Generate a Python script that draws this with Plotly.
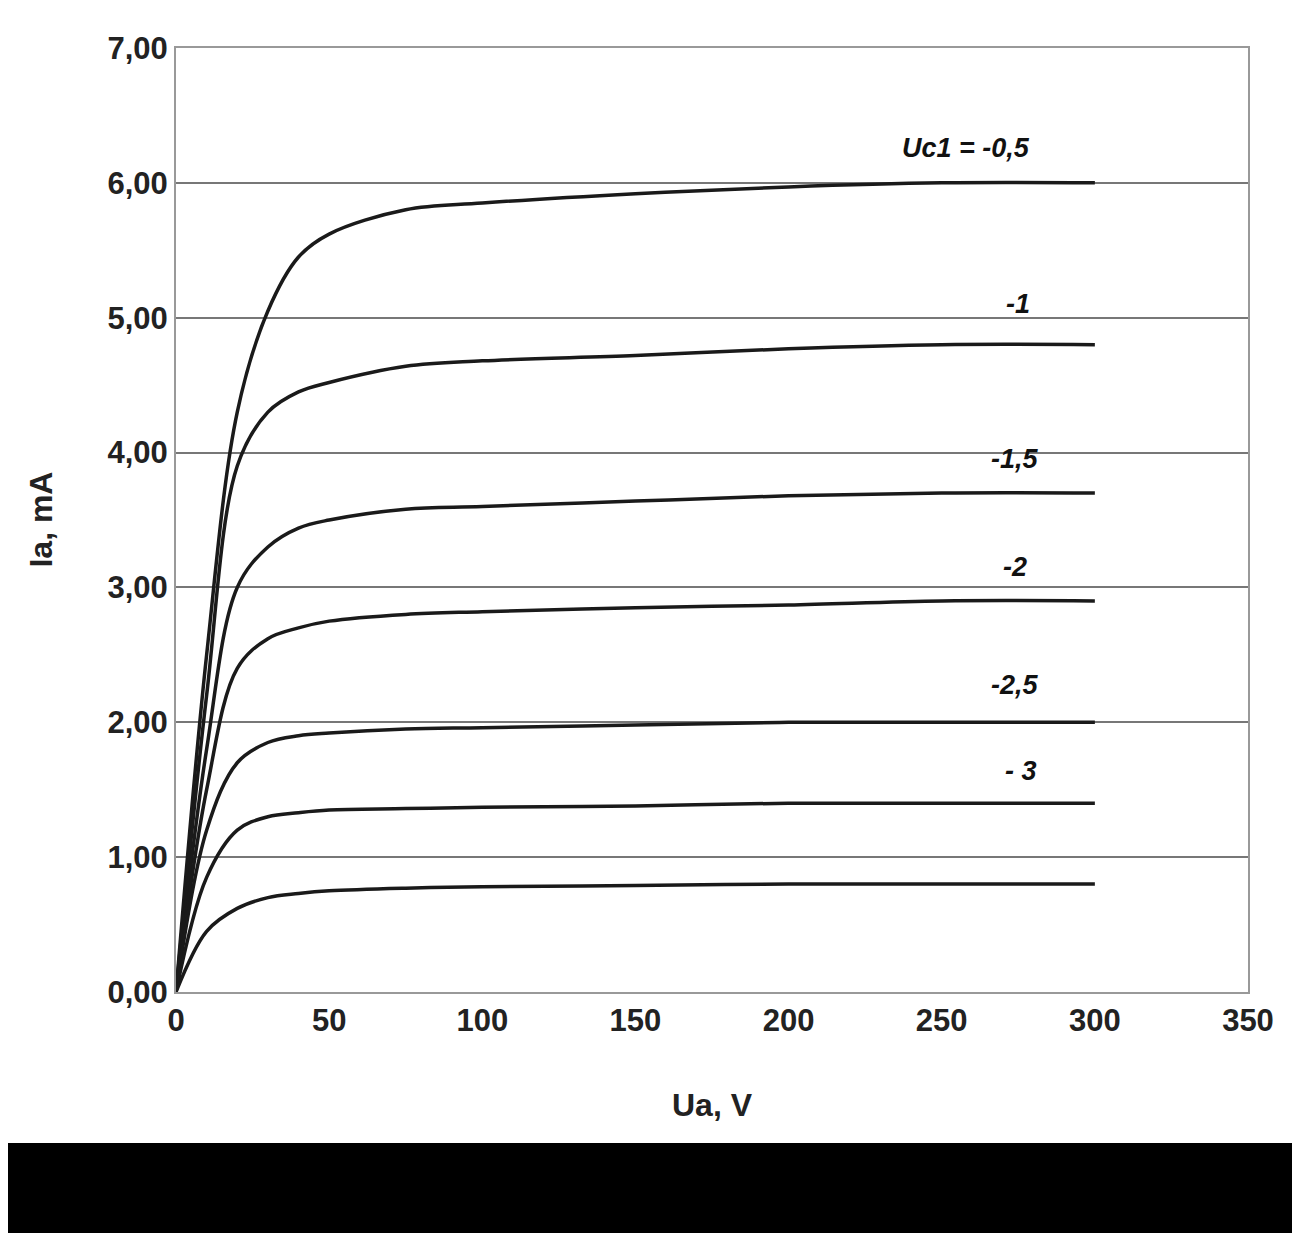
import plotly.graph_objects as go

# anode voltage Ua (V) and anode current Ia (mA) for each grid voltage
ua = [0, 10, 20, 30, 40, 50, 75, 100, 150, 200, 250, 300]
curves = {
    "-0,5": [0, 2.5, 4.3, 5.05, 5.45, 5.62, 5.8, 5.85, 5.92, 5.97, 6.0, 6.0],
    "-1":   [0, 2.2, 3.9, 4.3, 4.45, 4.52, 4.64, 4.68, 4.72, 4.77, 4.8, 4.8],
    "-1,5": [0, 1.8, 3.0, 3.3, 3.44, 3.5, 3.58, 3.6, 3.64, 3.68, 3.7, 3.7],
    "-2":   [0, 1.5, 2.4, 2.62, 2.7, 2.75, 2.8, 2.82, 2.85, 2.87, 2.9, 2.9],
    "-2,5": [0, 1.2, 1.7, 1.85, 1.9, 1.92, 1.95, 1.96, 1.98, 2.0, 2.0, 2.0],
    "-3":   [0, 0.85, 1.2, 1.3, 1.33, 1.35, 1.36, 1.37, 1.38, 1.4, 1.4, 1.4],
    "-3,5": [0, 0.45, 0.62, 0.7, 0.73, 0.75, 0.77, 0.78, 0.79, 0.8, 0.8, 0.8],
}

label_text = ["Uc1 = -0,5", "-1", "-1,5", "-2", "-2,5", "- 3"]
label_x = [258, 275, 274, 274, 274, 276]
label_y = [6.26, 5.1, 3.95, 3.15, 2.28, 1.64]

fig = go.Figure()
for name, ia in curves.items():
    fig.add_trace(go.Scatter(x=ua, y=ia, mode="lines", line_shape="spline",
                             line=dict(color="#1a1a1a", width=3.5), name=name,
                             showlegend=False))

for t, x, y in zip(label_text, label_x, label_y):
    fig.add_annotation(x=x, y=y, text=f"<b><i>{t}</i></b>", showarrow=False,
                       font=dict(size=27, color="#111"))

fig.add_annotation(xref="paper", yref="paper", x=0.5, y=-0.12, text="<b>Ua, V</b>",
                   showarrow=False, font=dict(size=32, color="#222"), yanchor="middle")
fig.add_annotation(xref="paper", yref="paper", x=-0.145, y=0.5, text="<b>Ia, mA</b>",
                   showarrow=False, font=dict(size=32, color="#222"), textangle=-90)

# dark band at the bottom
fig.add_shape(type="rect", xref="paper", yref="paper", x0=-0.3, x1=1.2,
              y0=-0.16, y1=-0.3, fillcolor="black", line_width=0, layer="below")

fig.update_layout(
    width=1300, height=1233, separators=",.",
    margin=dict(l=168, r=60, t=40, b=249),
    plot_bgcolor="white", paper_bgcolor="white",
    font=dict(family="Liberation Sans, Arial", color="#222"),
)
fig.update_xaxes(range=[0, 350], dtick=50, showgrid=False, zeroline=False,
                 showline=True, linecolor="#999", linewidth=2, mirror=True,
                 tickfont=dict(size=31, family="Liberation Sans, Arial"),
                 tickprefix="<b>", ticksuffix="</b>", ticks="")
fig.update_yaxes(range=[0, 7], dtick=1, tickformat=".2f", showgrid=True,
                 gridcolor="#777", gridwidth=2, zeroline=False,
                 showline=True, linecolor="#999", linewidth=2, mirror=True,
                 tickfont=dict(size=31, family="Liberation Sans, Arial"),
                 tickprefix="<b>", ticksuffix="</b>", ticks="")

fig.write_html("out.html")
